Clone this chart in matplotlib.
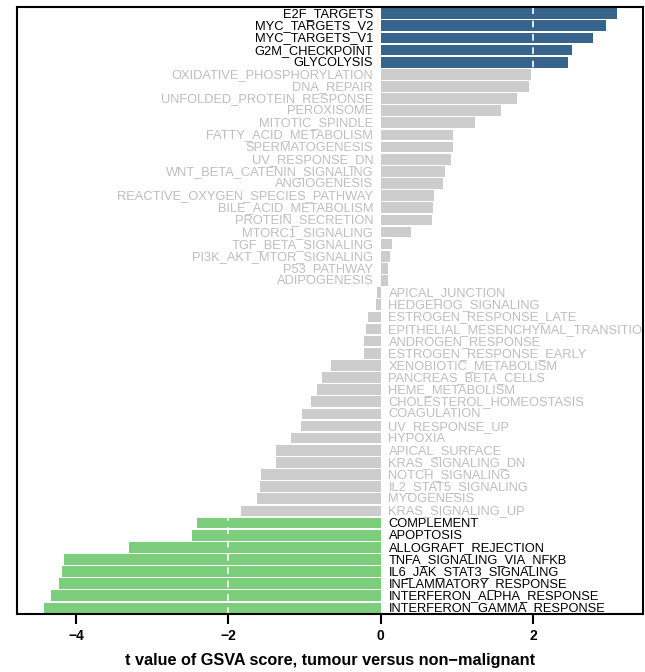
import matplotlib
matplotlib.use('Agg')
import matplotlib.pyplot as plt

plt.rcParams['font.family'] = ['Liberation Sans', 'DejaVu Sans']

# Названия наборов генов (сверху вниз) и t-значения
pathways = ['E2F_TARGETS', 'MYC_TARGETS_V2', 'MYC_TARGETS_V1', 'G2M_CHECKPOINT',
            'GLYCOLYSIS', 'OXIDATIVE_PHOSPHORYLATION', 'DNA_REPAIR',
            'UNFOLDED_PROTEIN_RESPONSE', 'PEROXISOME', 'MITOTIC_SPINDLE',
            'FATTY_ACID_METABOLISM', 'SPERMATOGENESIS', 'UV_RESPONSE_DN',
            'WNT_BETA_CATENIN_SIGNALING', 'ANGIOGENESIS',
            'REACTIVE_OXYGEN_SPECIES_PATHWAY', 'BILE_ACID_METABOLISM',
            'PROTEIN_SECRETION', 'MTORC1_SIGNALING', 'TGF_BETA_SIGNALING',
            'PI3K_AKT_MTOR_SIGNALING', 'P53_PATHWAY', 'ADIPOGENESIS',
            'APICAL_JUNCTION', 'HEDGEHOG_SIGNALING', 'ESTROGEN_RESPONSE_LATE',
            'EPITHELIAL_MESENCHYMAL_TRANSITION', 'ANDROGEN_RESPONSE',
            'ESTROGEN_RESPONSE_EARLY', 'XENOBIOTIC_METABOLISM',
            'PANCREAS_BETA_CELLS', 'HEME_METABOLISM', 'CHOLESTEROL_HOMEOSTASIS',
            'COAGULATION', 'UV_RESPONSE_UP', 'HYPOXIA', 'APICAL_SURFACE',
            'KRAS_SIGNALING_DN', 'NOTCH_SIGNALING', 'IL2_STAT5_SIGNALING',
            'MYOGENESIS', 'KRAS_SIGNALING_UP', 'COMPLEMENT', 'APOPTOSIS',
            'ALLOGRAFT_REJECTION', 'TNFA_SIGNALING_VIA_NFKB',
            'IL6_JAK_STAT3_SIGNALING', 'INFLAMMATORY_RESPONSE',
            'INTERFERON_ALPHA_RESPONSE', 'INTERFERON_GAMMA_RESPONSE']

t_values = [3.10, 2.96, 2.79, 2.51, 2.45, 1.97, 1.95, 1.79, 1.58, 1.24,
            0.95, 0.95, 0.92, 0.84, 0.82, 0.70, 0.68, 0.67, 0.39, 0.14,
            0.12, 0.09, 0.09, -0.05, -0.06, -0.17, -0.19, -0.22, -0.22, -0.66,
            -0.77, -0.84, -0.92, -1.04, -1.05, -1.18, -1.38, -1.38, -1.57, -1.58,
            -1.63, -1.84, -2.41, -2.48, -3.30, -4.16, -4.18, -4.22, -4.33, -4.42]

x_ticks = [-4, -2, 0, 2]
threshold = 2


def bar_colour(t):
    if t > threshold:
        return '#36648B'
    if t < -threshold:
        return '#7CCD7C'
    return '#CCCCCC'


def label_colour(t):
    if abs(t) > threshold:
        return 'black'
    return '#BEBEBE'


def plotting():
    fig = plt.figure(figsize=(6.45, 6.72), dpi=100)
    ax = fig.add_axes([17 / 645, 1 - 614 / 672, 626 / 645, 607 / 672])

    y = list(range(len(pathways)))
    ax.barh(y, t_values, height=0.88, color=[bar_colour(t) for t in t_values],
            zorder=1)

    for x in (-threshold, threshold):
        ax.axvline(x, color='white', linestyle=(0, (4, 4)), linewidth=1.2,
                   zorder=2)

    for i, (name, t) in enumerate(zip(pathways, t_values)):
        if t > 0:
            ax.text(-0.1, i + 0.05, name, ha='right', va='center', fontsize=9.3,
                    color=label_colour(t), zorder=3, clip_on=True)
        else:
            ax.text(0.1, i + 0.05, name, ha='left', va='center', fontsize=9.3,
                    color=label_colour(t), zorder=3, clip_on=True)

    ax.set_xlim(-4.775, 3.44)
    ax.set_ylim(len(pathways) - 0.5, -0.55)
    ax.set_yticks([])
    ax.set_xticks(x_ticks)
    ax.set_xticklabels([str(v).replace('-', '\u2212') for v in x_ticks],
                       fontsize=10, fontweight='bold')
    ax.tick_params(axis='x', length=7, width=1.5, pad=4)
    for spine in ax.spines.values():
        spine.set_linewidth(1.5)
    ax.set_xlabel('t value of GSVA score, tumour versus non\u2212malignant',
                  fontsize=11.7, fontweight='bold', labelpad=7)

    fig.savefig('out.png', dpi=100)


if __name__ == '__main__':
    plotting()
